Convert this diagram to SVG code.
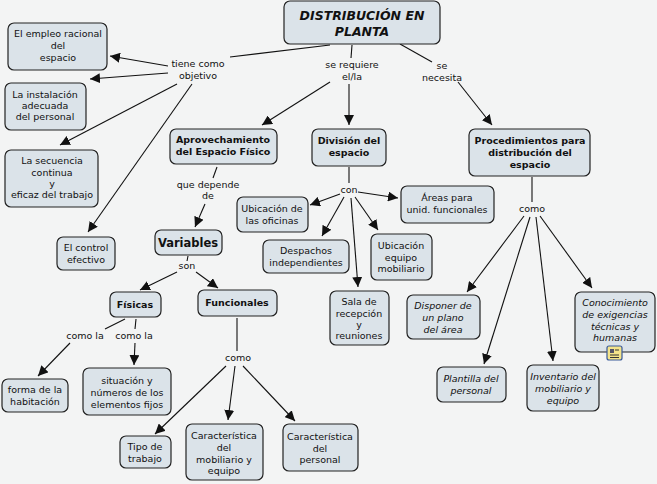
<svg xmlns="http://www.w3.org/2000/svg" width="657" height="484" viewBox="0 0 657 484">
<style>
.n rect{fill:#dbe3e9;stroke:#222;stroke-width:1.2}
text{font-family:"DejaVu Sans",Verdana,sans-serif;font-size:9.5px;fill:#111;text-anchor:middle}
.b text{font-weight:bold}
.i text{font-style:italic}
#conn line{stroke:#111;stroke-width:1.1}
#conn line.a{marker-end:url(#ah)}
</style>
<defs><marker id="ah" viewBox="0 0 10 10" refX="10" refY="5" markerWidth="10" markerHeight="10" markerUnits="userSpaceOnUse" orient="auto"><path d="M0,0L10,5L0,10z" fill="#111"/></marker></defs>
<rect width="657" height="484" fill="#f3f4f4"/>
<g id="conn">
<line x1="330" y1="45" x2="230" y2="57"/>
<line class="a" x1="168" y1="66" x2="110" y2="56"/>
<line class="a" x1="168" y1="73" x2="90" y2="79"/>
<line class="a" x1="177" y1="84" x2="60" y2="145"/>
<line class="a" x1="192" y1="84" x2="88" y2="232"/>
<line x1="352" y1="45" x2="351" y2="58"/>
<line class="a" x1="330" y1="82" x2="262" y2="125"/>
<line class="a" x1="349" y1="84" x2="349" y2="125"/>
<line x1="400" y1="44" x2="432" y2="62"/>
<line class="a" x1="458" y1="82" x2="492" y2="125"/>
<line x1="217" y1="167" x2="213" y2="178"/>
<line class="a" x1="205" y1="204" x2="195" y2="227"/>
<line x1="188" y1="256" x2="187" y2="261"/>
<line class="a" x1="177" y1="272" x2="140" y2="290"/>
<line class="a" x1="196" y1="272" x2="218" y2="288"/>
<line x1="125" y1="319" x2="105" y2="329"/>
<line x1="136" y1="319" x2="135" y2="329"/>
<line class="a" x1="70" y1="343" x2="38" y2="376"/>
<line class="a" x1="135" y1="343" x2="134" y2="365"/>
<line x1="237" y1="318" x2="237" y2="351"/>
<line class="a" x1="226" y1="366" x2="155" y2="434"/>
<line class="a" x1="235" y1="366" x2="228" y2="420"/>
<line class="a" x1="243" y1="366" x2="295" y2="421"/>
<line x1="349" y1="167" x2="349" y2="183"/>
<line class="a" x1="340" y1="194" x2="310" y2="205"/>
<line class="a" x1="344" y1="197" x2="322" y2="236"/>
<line class="a" x1="351" y1="198" x2="358" y2="287"/>
<line class="a" x1="355" y1="197" x2="378" y2="230"/>
<line class="a" x1="358" y1="192" x2="398" y2="198"/>
<line x1="532" y1="177" x2="532" y2="202"/>
<line class="a" x1="524" y1="216" x2="467" y2="292"/>
<line class="a" x1="530" y1="217" x2="484" y2="364"/>
<line class="a" x1="536" y1="217" x2="553" y2="361"/>
<line class="a" x1="540" y1="216" x2="592" y2="288"/>
</g>
<g id="labels">
<text x="198" y="67">tiene como</text><text x="198" y="79">objetivo</text>
<text x="352" y="68">se requiere</text><text x="352" y="80">el/la</text>
<text x="442" y="69">se</text><text x="442" y="81">necesita</text>
<text x="208" y="188">que depende</text><text x="208" y="199">de</text>
<text x="187" y="269">son</text>
<text x="85" y="339">como la</text>
<text x="134" y="339">como la</text>
<text x="238" y="361">como</text>
<text x="349" y="193">con</text>
<text x="532" y="212">como</text>
</g>
<g id="title" class="n"><rect x="284" y="1" width="156" height="43" rx="6"/><text x="362" y="20" style="font-weight:bold;font-style:italic;font-size:12.5px">DISTRIBUCIÓN EN</text><text x="362" y="36" style="font-weight:bold;font-style:italic;font-size:12.5px">PLANTA</text></g>
<g id="n1" class="n"><rect x="8" y="23" width="99" height="47" rx="6"/><text x="58" y="37">El empleo racional</text><text x="58" y="49">del</text><text x="58" y="61">espacio</text></g>
<g id="n2" class="n"><rect x="5" y="83" width="81" height="47" rx="6"/><text x="45" y="98">La instalación</text><text x="45" y="109">adecuada</text><text x="45" y="120">del personal</text></g>
<g id="n3" class="n"><rect x="5" y="150" width="93" height="57" rx="6"/><text x="52" y="164">La secuencia</text><text x="52" y="176">continua</text><text x="52" y="187">y</text><text x="52" y="198">eficaz del trabajo</text></g>
<g id="n4" class="n"><rect x="57" y="237" width="58" height="33" rx="6"/><text x="86" y="251">El control</text><text x="86" y="263">efectivo</text></g>
<g id="aprov" class="n b"><rect x="170" y="129" width="107" height="35" rx="6"/><text x="223" y="143">Aprovechamiento</text><text x="223" y="155">del Espacio Físico</text></g>
<g id="division" class="n b"><rect x="312" y="129" width="74" height="37" rx="6"/><text x="349" y="144">División del</text><text x="349" y="156">espacio</text></g>
<g id="proc" class="n b"><rect x="469" y="129" width="121" height="47" rx="6"/><text x="530" y="144">Procedimientos para</text><text x="530" y="156">distribución del</text><text x="530" y="168">espacio</text></g>
<g id="variables" class="n b"><rect x="155" y="230" width="67" height="25" rx="6"/><text x="188" y="247" style="font-size:11.5px">Variables</text></g>
<g id="fisicas" class="n b"><rect x="110" y="292" width="51" height="25" rx="6"/><text x="135" y="308">Físicas</text></g>
<g id="funcionales" class="n b"><rect x="198" y="290" width="79" height="26" rx="6"/><text x="237" y="306">Funcionales</text></g>
<g id="forma" class="n"><rect x="2" y="379" width="66" height="33" rx="6"/><text x="35" y="393">forma de la</text><text x="35" y="405">habitación</text></g>
<g id="situacion" class="n"><rect x="83" y="368" width="88" height="47" rx="6"/><text x="127" y="384">situación y</text><text x="127" y="396">números de los</text><text x="127" y="408">elementos fijos</text></g>
<g id="tipo" class="n"><rect x="120" y="436" width="51" height="32" rx="6"/><text x="145" y="450">Tipo de</text><text x="145" y="462">trabajo</text></g>
<g id="carmob" class="n"><rect x="186" y="424" width="77" height="56" rx="6"/><text x="224" y="439">Característica</text><text x="224" y="451">del</text><text x="224" y="463">mobiliario y</text><text x="224" y="474">equipo</text></g>
<g id="carper" class="n"><rect x="283" y="424" width="75" height="47" rx="6"/><text x="320" y="440">Característica</text><text x="320" y="452">del</text><text x="320" y="463">personal</text></g>
<g id="ubof" class="n"><rect x="237" y="197" width="71" height="35" rx="6"/><text x="272" y="212">Ubicación de</text><text x="272" y="224">las oficinas</text></g>
<g id="desp" class="n"><rect x="263" y="240" width="86" height="33" rx="6"/><text x="306" y="254">Despachos</text><text x="306" y="266">independientes</text></g>
<g id="ubeq" class="n"><rect x="371" y="234" width="61" height="46" rx="6"/><text x="401" y="249">Ubicación</text><text x="401" y="261">equipo</text><text x="401" y="272">mobiliario</text></g>
<g id="areas" class="n"><rect x="401" y="186" width="93" height="37" rx="6"/><text x="447" y="201">Áreas para</text><text x="447" y="213">unid. funcionales</text></g>
<g id="sala" class="n"><rect x="330" y="291" width="59" height="54" rx="6"/><text x="359" y="305">Sala de</text><text x="359" y="317">recepción</text><text x="359" y="328">y</text><text x="359" y="339">reuniones</text></g>
<g id="plano" class="n i"><rect x="407" y="295" width="73" height="44" rx="6"/><text x="443" y="309">Disponer de</text><text x="443" y="321">un plano</text><text x="443" y="333">del área</text></g>
<g id="plantilla" class="n i"><rect x="437" y="367" width="69" height="35" rx="6"/><text x="471" y="382">Plantilla del</text><text x="471" y="394">personal</text></g>
<g id="inventario" class="n i"><rect x="527" y="365" width="72" height="46" rx="6"/><text x="563" y="380">Inventario del</text><text x="563" y="392">mobiliario y</text><text x="563" y="404">equipo</text></g>
<g id="conoc" class="n i"><rect x="575" y="292" width="80" height="60" rx="6"/><text x="615" y="306">Conocimiento</text><text x="615" y="318">de exigencias</text><text x="615" y="330">técnicas y</text><text x="615" y="341">humanas</text>
<rect x="607" y="346" width="15" height="14" rx="2" style="fill:#f4e48a;stroke:#3a5a9a;stroke-width:1.2"/><rect x="610" y="349" width="4" height="4" style="fill:#556;stroke:none"/><line x1="615" y1="350" x2="619" y2="350" stroke="#333"/><line x1="610" y1="355" x2="619" y2="355" stroke="#333"/><line x1="610" y1="357.5" x2="619" y2="357.5" stroke="#333"/></g>
</svg>
